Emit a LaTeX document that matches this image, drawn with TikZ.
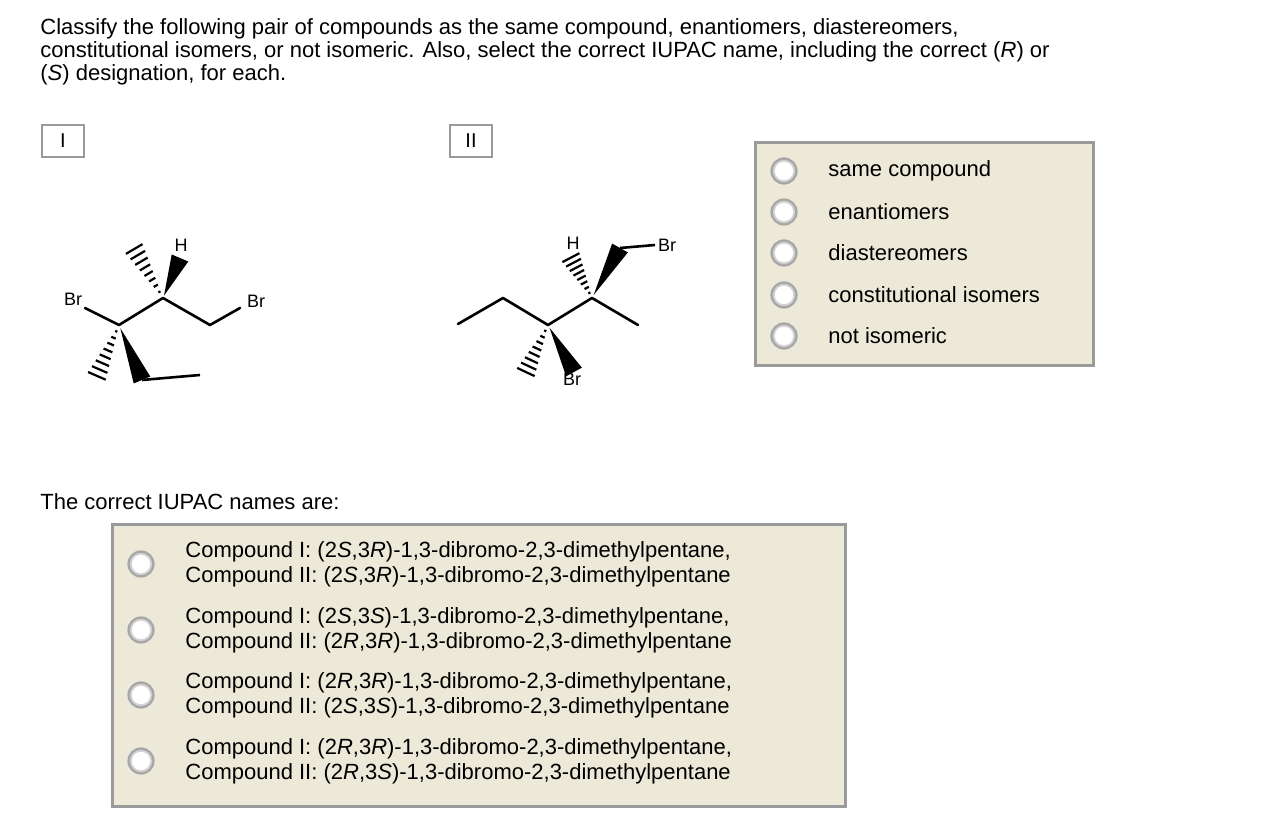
\documentclass[tikz,border=0pt]{standalone}
\usepackage{fontspec}
\setmainfont{Liberation Sans}
\usetikzlibrary{calc}
\definecolor{panel}{HTML}{ECE9D8}
\definecolor{pborder}{HTML}{9A9A9A}
\tikzset{
  bond/.style={line width=1.3pt},
  lbl/.style={inner sep=0pt,font=\fontsize{9}{10}\selectfont},
  txt/.style={inner sep=0pt,anchor=west,align=left,font=\fontsize{11}{11.5}\selectfont},
  tagbox/.style={draw=pborder,line width=0.8pt,minimum width=21pt,minimum height=16pt,inner sep=0pt,font=\fontsize{10}{10}\selectfont},
}
\newcommand{\wedgeb}[2]{\fill ($(#1)!0.06!(#2)$) -- ($(#2)!4.5pt!90:(#1)$) -- ($(#2)!4.5pt!-90:(#1)$) -- cycle;}
\newcommand{\hashb}[2]{\foreach \t in {0.12,0.24,...,1.0}{
  \coordinate (hp) at ($(#1)!\t!(#2)$);
  \draw[line width=1.1pt] ($(hp)!\t*5pt!90:(#2)$) -- ($(hp)!\t*5pt!-90:(#2)$);}}
\newcommand{\radio}[2]{\fill[gray!70] (#1,#2) circle (6.8pt); \fill[gray!35] (#1,#2) circle (5.6pt); \fill[white] (#1,#2) circle (4.6pt);}
\begin{document}
\begin{tikzpicture}[x=0.5pt,y=-0.5pt]
\useasboundingbox (0,0) rectangle (1266,822);
\fill[white] (0,0) rectangle (1266,822);
\node[txt,anchor=north west] (q) at (40,18) {Classify the following pair of compounds as the same compound, enantiomers, diastereomers,\\constitutional isomers, or not isomeric. Also, select the correct IUPAC name, including the correct (\textit{R}) or\\(\textit{S}) designation, for each.};
\node[tagbox] (t1) at (63,141) {I};
\node[tagbox] (t2) at (471,141) {II};
% molecule I
\coordinate (a1) at (85,308); \coordinate (a2) at (119,325); \coordinate (a3) at (163,298);
\coordinate (a4) at (210,325); \coordinate (a5) at (240,308);
\coordinate (aH) at (180,258); \coordinate (aM) at (133,247);
\coordinate (aL) at (96,378); \coordinate (aW) at (142,380); \coordinate (aE) at (200,375);
\node[lbl] (br1) at (73,299) {Br};
\node[lbl] (br2) at (256,301) {Br};
\node[lbl] (h1) at (181,245) {H};
\draw[bond,line cap=round,line join=round] (a1) -- (a2) -- (a3) -- (a4) -- (a5);
\draw[bond] (aW) -- (aE);
\wedgeb{a3}{aH}
\hashb{a3}{aM}
\hashb{a2}{aL}
\wedgeb{a2}{aW}
% molecule II
\coordinate (b1) at (458,324); \coordinate (b2) at (503,298); \coordinate (b3) at (548,325);
\coordinate (b4) at (592,298); \coordinate (b5) at (638,325);
\coordinate (bW) at (620,248); \coordinate (bE) at (655,245);
\coordinate (bH) at (570,256); \coordinate (bL) at (525,374); \coordinate (bB) at (574,372);
\node[lbl] (br3) at (667,245) {Br};
\node[lbl] (br4) at (572,379) {Br};
\node[lbl] (h2) at (573,243) {H};
\draw[bond,line cap=round,line join=round] (b1) -- (b2) -- (b3) -- (b4) -- (b5);
\draw[bond] (bW) -- (bE);
\wedgeb{b4}{bW}
\hashb{b4}{bH}
\hashb{b3}{bL}
\wedgeb{b3}{bB}
% answer panel
\draw[pborder,fill=panel,line width=1.5pt] (755,143) rectangle (1093,366);
\foreach \y/\s in {171/same compound,212/enantiomers,253/diastereomers,295/constitutional isomers,336/not isomeric}{
  \radio{784}{\y}
  \node[txt] at (828,\y) {\s};
}
\node[txt] (names) at (40,502) {The correct IUPAC names are:};
\draw[pborder,fill=panel,line width=1.5pt] (112,525) rectangle (845,807);
\foreach \y/\a/\b in {
  564/{(2\textit{S},3\textit{R})}/{(2\textit{S},3\textit{R})},
  630/{(2\textit{S},3\textit{S})}/{(2\textit{R},3\textit{R})},
  695/{(2\textit{R},3\textit{R})}/{(2\textit{S},3\textit{S})},
  761/{(2\textit{R},3\textit{R})}/{(2\textit{R},3\textit{S})}}{
  \radio{141}{\y}
  \node[txt,font=\fontsize{11}{12.5}\selectfont] at (185,\y) {Compound I: \a-1,3-dibromo-2,3-dimethylpentane,\\Compound II: \b-1,3-dibromo-2,3-dimethylpentane};
}
\end{tikzpicture}
\end{document}
